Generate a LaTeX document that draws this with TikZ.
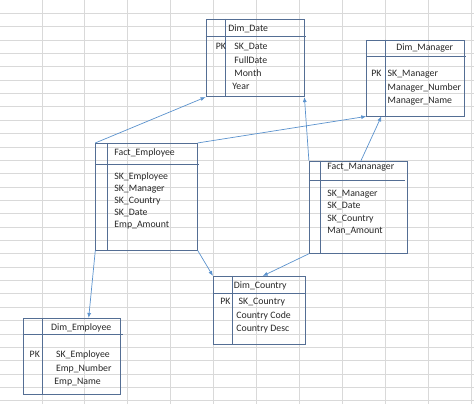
\documentclass[tikz,border=0pt]{standalone}
\usepackage{fontspec}
\setmainfont{Carlito}
\usetikzlibrary{arrows.meta, calc, positioning}
\definecolor{gridgray}{RGB}{217, 217, 217}
\definecolor{tblblue}{RGB}{84, 110, 148}
\definecolor{arrblue}{RGB}{91, 146, 205}
\definecolor{txtgray}{RGB}{38, 38, 38}

\begin{document}
\begin{tikzpicture}[x=1pt,y=-1pt,line width=0.8pt,>={Latex[length=5pt,width=4pt]},
	tbl/.style={draw=tblblue, line width=0.8pt},
	field/.style={anchor=west, inner sep=0pt, text height=7pt, text depth=2pt, font=\fontsize{9.8}{12}\selectfont, text=txtgray},
	link/.style={->, draw=arrblue, line width=0.7pt}]
	\useasboundingbox (0,0) rectangle (474,404);
	% sheet grid
	\foreach \k in {0,...,10}
		\draw[gridgray, line width=0.9pt] (42+42.9*\k,0) -- (42+42.9*\k,404);
	\foreach \k in {1,...,30}
		\draw[gridgray, line width=0.9pt] (0,13.36*\k) -- (474,13.36*\k);
	
	% tables
	\node[tbl, minimum width=98pt, minimum height=77.4pt] (dd) at (255,58) {};
	\node[tbl, minimum width=97.3pt, minimum height=76pt] (dm) at (415.3,78) {};
	\node[tbl, minimum width=101.6pt, minimum height=106.7pt] (fe) at (146.5,196.7) {};
	\node[tbl, minimum width=98.4pt, minimum height=92.3pt] (fm) at (358.5,207.2) {};
	\node[tbl, minimum width=92pt, minimum height=67.7pt] (dc) at (259.3,310.2) {};
	\node[tbl, minimum width=97.4pt, minimum height=76.4pt] (de) at (72,356.5) {};
	
	% header rules and key columns
	\draw[tbl] ($(dd.north west)+(0,17.4)$) -- ++(100.5,0);
	\draw[tbl] ($(dd.north west)+(20,0)$) -- ($(dd.south west)+(20,0)$);
	\draw[tbl] ($(dm.north west)+(0,16.7)$) -- ++(100,0);
	\draw[tbl] ($(dm.north west)+(19.3,0)$) -- ($(dm.south west)+(19.3,0)$);
	\draw[tbl] ($(fe.north west)+(0,21.7)$) -- ++(103.5,0);
	\draw[tbl] ($(fe.north west)+(12,0)$) -- ($(fe.south west)+(12,0)$);
	\draw[tbl] ($(fm.north west)+(0,19.7)$) -- ++(96,0);
	\draw[tbl] ($(fm.north west)+(11.7,0)$) -- ($(fm.south west)+(11.7,0)$);
	\draw[tbl] ($(dc.north west)+(0,17)$) -- ++(92,0);
	\draw[tbl] ($(dc.north west)+(19,0)$) -- ($(dc.south west)+(19,0)$);
	\draw[tbl] ($(de.north west)+(0,16.7)$) -- ++(100,0);
	\draw[tbl] ($(de.north west)+(19.4,0)$) -- ($(de.south west)+(19.4,0)$);
	
	% Dim_Date
	\node[field] (ddT) at (228,29) {Dim\_Date};
	\node[field] (ddP) at (215.5,47) {PK};
	\node[field] (dd1) at (234,47) {SK\_Date};
	\node[field] (dd2) at (234,60.7) {FullDate};
	\node[field] (dd3) at (234,73.7) {Month};
	\node[field] (dd4) at (232,87.3) {Year};
	
	% Dim_Manager
	\node[field] (dmT) at (396,48.3) {Dim\_Manager};
	\node[field] (dmP) at (371,74) {PK};
	\node[field] (dm1) at (387.3,74) {SK\_Manager};
	\node[field] (dm2) at (387.3,87.7) {Manager\_Number};
	\node[field] (dm3) at (387.3,100.7) {Manager\_Name};
	
	% Fact_Employee
	\node[field] (feT) at (114,152.7) {Fact\_Employee};
	\foreach \t [count=\i] in {SK\_Employee, SK\_Manager, SK\_Country, SK\_Date, Emp\_Amount}
		\node[field] (fe\i) at (114,177+11.9*\i-11.9) {\t};
	
	% Fact_Mananager
	\node[field] (fmT) at (327,166.7) {Fact\_Mananager};
	\foreach \t [count=\i] in {SK\_Manager, SK\_Date, SK\_Country, Man\_Amount}
		\node[field] (fm\i) at (327,194.3+12.1*\i-12.1) {\t};
	
	% Dim_Country
	\node[field] (dcT) at (233.5,286) {Dim\_Country};
	\node[field] (dcP) at (220,302.3) {PK};
	\node[field] (dc1) at (238.3,302.3) {SK\_Country};
	\node[field] (dc2) at (236,315.7) {Country Code};
	\node[field] (dc3) at (236,329) {Country Desc};
	
	% Dim_Employee
	\node[field] (deT) at (50.7,328) {Dim\_Employee};
	\node[field] (deP) at (29.3,355.3) {PK};
	\node[field] (de1) at (55.7,355.3) {SK\_Employee};
	\node[field] (de2) at (55.7,369) {Emp\_Number};
	\node[field] (de3) at (54,382.3) {Emp\_Name};
	
	% relations
	\draw[link] (fe.north west) -- (dd.south west);
	\draw[link] (fe.north east) -- (dm.south west);
	\draw[link] (fm.north west) -- (dd.south east);
	\draw[link] ($(fm.north west)!0.525!(fm.north east)$) -- ($(dm.south west)!0.154!(dm.south east)$);
	\draw[link] (fe.south west) -- ($(de.north west)!0.67!(de.north east)$);
	\draw[link] (fe.south east) -- (dc.north west);
	\draw[link] (fm.south west) -- ($(dc.north west)!0.537!(dc.north east)$);
\end{tikzpicture}
\end{document}
